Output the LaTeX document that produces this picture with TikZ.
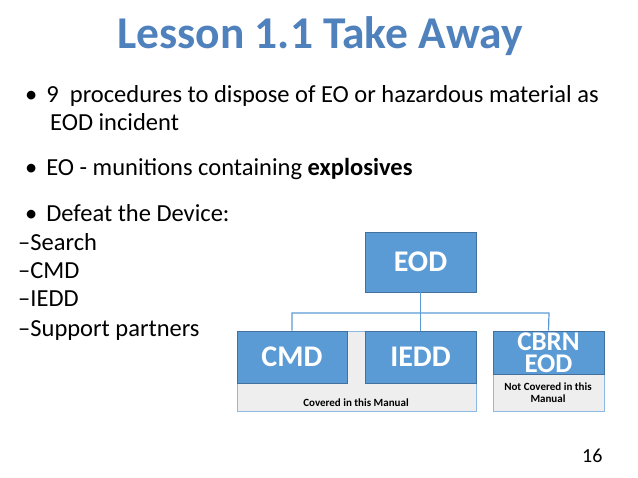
\documentclass[tikz,border=0pt]{standalone}
\usepackage{fontspec}
\setmainfont{Carlito}
\definecolor{tblue}{HTML}{4F81BD}
\definecolor{bx}{HTML}{5B9BD5}
\definecolor{bxd}{HTML}{41719C}
\definecolor{gr}{HTML}{EEEEEE}
\tikzset{
  bbox/.style={fill=bx,draw=bxd,line width=0.6pt},
  gbox/.style={fill=gr,draw=bx!70,line width=0.6pt},
  btxt/.style={text=white,font=\bfseries\fontsize{30}{30}\selectfont,align=center},
  stxt/.style={font=\bfseries\fontsize{11}{12}\selectfont,align=center},
  body/.style={anchor=base west,font=\fontsize{24.5}{28}\selectfont,inner sep=0pt},
  conn/.style={draw=bx,line width=1.2pt}
}
\begin{document}
\begin{tikzpicture}[x=1pt,y=-1pt]
\useasboundingbox (0,0) rectangle (638,478);
\node[text=tblue,font=\bfseries\fontsize{45.5}{48}\selectfont] (title) at (320,36) {Lesson 1.1 Take Away};
\node[body] (b1) at (25,103) {•\hspace{9pt}9\ \ procedures to dispose of EO or hazardous material as};
\node[body] (b1b) at (50,131) {EOD incident};
\node[body] (b2) at (25,176) {•\hspace{9pt}EO - munitions containing \textbf{explosives}};
\node[body] (b3) at (25,222) {•\hspace{9pt}Defeat the Device:};
\node[body] (l1) at (18,251) {–Search};
\node[body] (l2) at (18,279) {–CMD};
\node[body] (l3) at (18,307) {–IEDD};
\node[body] (l4) at (18,337) {–Support partners};
\node[body,font=\fontsize{20}{22}\selectfont] (pg) at (582,463) {16};
% gray boxes
\path[gbox] (237,331) rectangle (476,411);
\path[gbox] (493,331) rectangle (604,411);
\node[stxt] (cov) at (356,403) {Covered in this Manual};
\node[stxt] (ncov) at (548,393) {Not Covered in this\\Manual};
% connectors
\coordinate (h1) at (292,313);
\coordinate (h3) at (549,313);
\node[bbox,minimum width=111pt,minimum height=60pt,inner sep=0pt] (eod) at (420.5,262) {};
\node[btxt] at (eod) {EOD};
\node[bbox,minimum width=110pt,minimum height=52pt,inner sep=0pt] (cmd) at (292,357) {};
\node[btxt] at (cmd) {CMD};
\node[bbox,minimum width=111pt,minimum height=52pt,inner sep=0pt] (iedd) at (420.5,357) {};
\node[btxt] at (iedd) {IEDD};
\node[bbox,minimum width=111pt,minimum height=43pt,inner sep=0pt] (cbrn) at (548.5,352.5) {};
\node[btxt,font=\bfseries\fontsize{27}{22}\selectfont] at (cbrn) {CBRN\\EOD};
\draw[conn] (eod.south) -- (iedd.north);
\draw[conn] (cmd.north) -- (h1) -- (h3) -- (cbrn.north);
\end{tikzpicture}
\end{document}
